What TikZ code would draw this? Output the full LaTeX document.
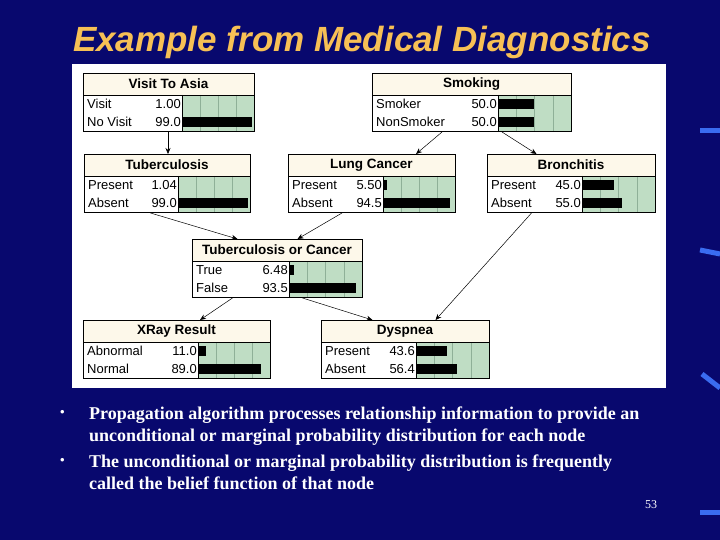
\documentclass[tikz,border=0pt]{standalone}
\usepackage{fontspec}
\setmainfont{Liberation Sans}
\newfontfamily\tnr{Liberation Serif}
\usetikzlibrary{arrows.meta}
\definecolor{navy}{HTML}{08086E}
\definecolor{ttl}{HTML}{F7C055}
\definecolor{hdr}{HTML}{FDF8EA}
\definecolor{grn}{HTML}{BFDDC4}
\definecolor{grd}{HTML}{8FB098}
\definecolor{strk}{HTML}{3A6CF0}
\newcommand\bnbox[6]{% name x1 y1 x2 barx title
  \fill[hdr] (#2,#3) rectangle (#4,#3+22);
  \fill[grn] (#5,#3+22) rectangle (#4,#3+58);
  \foreach \k in {1,2,3} \draw[grd,line width=0.4pt] ({#5+(#4-#5)*\k/4},#3+22) -- ({#5+(#4-#5)*\k/4},#3+58);
  \draw[line width=0.6pt] (#5,#3+22) -- (#5,#3+58);
  \draw[line width=0.6pt] (#2,#3+22) -- (#4,#3+22);
  \node[draw,line width=1pt,minimum width={(#4-#2)*1pt},minimum height=58pt,inner sep=0pt,anchor=north west] (#1) at (#2,#3) {};
  \node[font=\fontsize{13.5}{13}\selectfont\bfseries] at ({(#2+#4)/2},#3+11) {#6};}
\newcommand\bnrow[6]{% x1 barx x2 y label value
  \node[anchor=west,inner sep=0pt,font=\fontsize{13}{12}\selectfont] at (#1+4,#4) {#5};
  \node[anchor=east,inner sep=0pt,font=\fontsize{13}{12}\selectfont] at (#2-1,#4) {#6};
  \fill (#2,#4-5) rectangle ({#2+(#3-#2-1)*#6/100},#4+5);}
\begin{document}
\begin{tikzpicture}[x=1pt,y=-1pt,arr/.style={-{Stealth[length=6pt,width=5pt]},line width=0.5pt}]
\useasboundingbox (0,0) rectangle (720,540);
\fill[navy] (0,0) rectangle (720,540);
\draw[line width=5pt,strk] (700,131) -- (720,131);
\draw[line width=5pt,strk] (700,250) -- (720,254);
\draw[line width=5pt,strk] (702,374) -- (720,388);
\draw[line width=5pt,strk] (700,512) -- (720,512);
\node[font=\fontsize{35}{35}\selectfont\bfseries\itshape,text=ttl] (title) at (362,42) {Example from Medical Diagnostics};
\fill[white] (72,64) rectangle (666,388);
\bnbox{asia}{83}{73}{254}{182}{Visit To Asia}
\bnrow{83}{182}{254}{104}{Visit}{1.00}
\bnrow{83}{182}{254}{122}{No Visit}{99.0}
\bnbox{smk}{372}{73}{571}{498}{Smoking}
\bnrow{372}{498}{571}{104}{Smoker}{50.0}
\bnrow{372}{498}{571}{122}{NonSmoker}{50.0}
\bnbox{tb}{84}{154}{250}{178}{Tuberculosis}
\bnrow{84}{178}{250}{185}{Present}{1.04}
\bnrow{84}{178}{250}{203}{Absent}{99.0}
\bnbox{lc}{288}{154}{455}{383}{Lung Cancer}
\bnrow{288}{383}{455}{185}{Present}{5.50}
\bnrow{288}{383}{455}{203}{Absent}{94.5}
\bnbox{br}{487}{154}{655}{582}{Bronchitis}
\bnrow{487}{582}{655}{185}{Present}{45.0}
\bnrow{487}{582}{655}{203}{Absent}{55.0}
\bnbox{toc}{192}{239}{362}{289}{Tuberculosis or Cancer}
\bnrow{192}{289}{362}{270}{True}{6.48}
\bnrow{192}{289}{362}{288}{False}{93.5}
\bnbox{xr}{83}{320}{270}{198}{XRay Result}
\bnrow{83}{198}{270}{351}{Abnormal}{11.0}
\bnrow{83}{198}{270}{369}{Normal}{89.0}
\bnbox{dy}{321}{320}{489}{416}{Dyspnea}
\bnrow{321}{416}{489}{351}{Present}{43.6}
\bnrow{321}{416}{489}{369}{Absent}{56.4}
\draw[arr] (asia.south) ++(-1,0) coordinate (a1) -- (a1|-tb.north);
\draw[arr] ([xshift=-30pt]smk.south) -- ([xshift=44pt]lc.north);
\draw[arr] ([xshift=30pt]smk.south) -- ([xshift=-35pt]br.north);
\draw[arr] ([xshift=-17pt]tb.south) -- ([xshift=-40pt]toc.north);
\draw[arr] ([xshift=-30pt]lc.south) -- ([xshift=20pt]toc.north);
\draw[arr] ([xshift=-45pt]toc.south) -- ([xshift=23pt]xr.north);
\draw[arr] ([xshift=25pt]toc.south) -- ([xshift=-33pt]dy.north);
\draw[arr] ([xshift=-40pt]br.south) -- ([xshift=30pt]dy.north);
\begin{scope}[every node/.style={text=white,font=\tnr\fontsize{18}{22}\selectfont\bfseries,anchor=north west,inner sep=0pt,align=left}]
\node (b1) at (60,410) {\fontsize{13}{13}\selectfont\textbullet};
\node (t1) at (89,407) {Propagation algorithm processes relationship information to provide an\\unconditional or marginal probability distribution for each node};
\node (b2) at (60,458) {\fontsize{13}{13}\selectfont\textbullet};
\node (t2) at (89,455) {The unconditional or marginal probability distribution is frequently\\called the belief function of that node};
\end{scope}
\node[text=white,font=\tnr\fontsize{12}{12}\selectfont] (pg) at (651,505) {53};
\end{tikzpicture}
\end{document}
